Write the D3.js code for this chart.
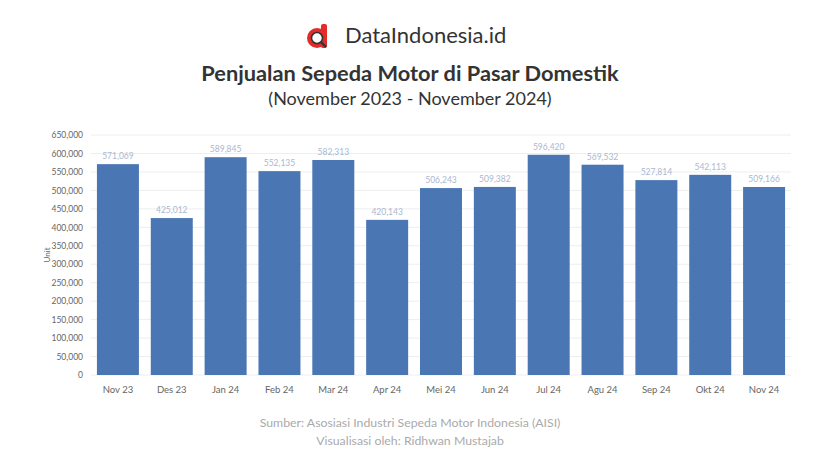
<!DOCTYPE html>
<html><head><meta charset="utf-8">
<script src="https://cdn.jsdelivr.net/npm/d3@7"></script>
<style>body{margin:0;background:#fff}svg{display:block}</style>
</head><body><svg id="c" width="820" height="460"></svg>
<script>
const months = ["Nov 23","Des 23","Jan 24","Feb 24","Mar 24","Apr 24","Mei 24","Jun 24","Jul 24","Agu 24","Sep 24","Okt 24","Nov 24"];
const sales = [571069,425012,589845,552135,582313,420143,506243,509382,596420,569532,527814,542113,509166];
const yTicks = [0,50000,100000,150000,200000,250000,300000,350000,400000,450000,500000,550000,600000,650000];
const title = "Penjualan Sepeda Motor di Pasar Domestik";
const subtitle = "(November 2023 - November 2024)";
const footer = ["Sumber: Asosiasi Industri Sepeda Motor Indonesia (AISI)","Visualisasi oleh: Ridhwan Mustajab"];

const svg = d3.select("#c");
const font = "Lato, 'Noto Sans', sans-serif";
const m = {l:91, r:29, t:135, b:85};
const W = 820, H = 460;
const x = d3.scaleBand().domain(months).range([m.l, W-m.r]).paddingInner(0.22).paddingOuter(0.11);
const y = d3.scaleLinear().domain([0,650000]).range([H-m.b, m.t]);
const fmt = d3.format(",");

// logo
const lg = svg.append("g").attr("transform","translate(307,24)");
lg.append("rect").attr("x",14).attr("y",0).attr("width",6).attr("height",24).attr("rx",2).attr("fill","#e32b2b");
lg.append("circle").attr("cx",10).attr("cy",14).attr("r",10).attr("fill","#e32b2b");
lg.append("circle").attr("cx",10).attr("cy",14).attr("r",5.5).attr("fill","#fff").attr("stroke","#333").attr("stroke-width",1.6);
lg.append("line").attr("x1",14).attr("y1",18).attr("x2",19).attr("y2",23).attr("stroke","#333").attr("stroke-width",2.2);
svg.append("text").attr("x",345).attr("y",43).attr("font-family",font).attr("font-size",22).attr("fill","#333").text("DataIndonesia.id");

svg.append("text").attr("x",410).attr("y",81).attr("text-anchor","middle").attr("font-family",font).attr("font-weight","bold").attr("font-size",21.8).attr("fill","#333").text(title);
svg.append("text").attr("x",410).attr("y",105).attr("text-anchor","middle").attr("font-family",font).attr("font-size",18).attr("fill","#333").text(subtitle);

// grid
svg.append("g").selectAll("line").data(yTicks).join("line")
  .attr("x1",m.l).attr("x2",W-m.r).attr("y1",d=>y(d)).attr("y2",d=>y(d))
  .attr("stroke","#eeeeee");

const ya = svg.append("g").attr("transform",`translate(${m.l},0)`)
  .call(d3.axisLeft(y).tickValues(yTicks).tickFormat(fmt).tickSize(0).tickPadding(8));
ya.select(".domain").remove();
ya.selectAll("text").attr("font-family",font).attr("font-size",8.5).attr("fill","#666");

svg.append("text").attr("transform",`translate(50,${(y(0)+y(650000))/2}) rotate(-90)`).attr("text-anchor","middle")
  .attr("font-family",font).attr("font-size",8).attr("fill","#666").text("Unit");

const xa = svg.append("g").attr("transform",`translate(0,${H-m.b})`)
  .call(d3.axisBottom(x).tickSize(0).tickPadding(11));
xa.select(".domain").remove();
xa.selectAll("text").attr("font-family",font).attr("font-size",9.5).attr("fill","#666");

svg.append("g").selectAll("rect").data(sales).join("rect")
  .attr("x",(d,i)=>x(months[i])).attr("width",x.bandwidth())
  .attr("y",d=>y(d)).attr("height",d=>y(0)-y(d)).attr("fill","#4a77b4");

svg.append("g").selectAll("text").data(sales).join("text")
  .attr("x",(d,i)=>x(months[i])+x.bandwidth()/2).attr("y",d=>y(d)-5)
  .attr("text-anchor","middle").attr("font-family",font).attr("font-size",8.5).attr("fill","#aab8d0").text(d=>fmt(d));

svg.append("g").selectAll("text").data(footer).join("text")
  .attr("x",410).attr("y",(d,i)=>427+i*18).attr("text-anchor","middle")
  .attr("font-family",font).attr("font-size",12.3).attr("fill","#aaa").text(d=>d);
</script></body></html>
